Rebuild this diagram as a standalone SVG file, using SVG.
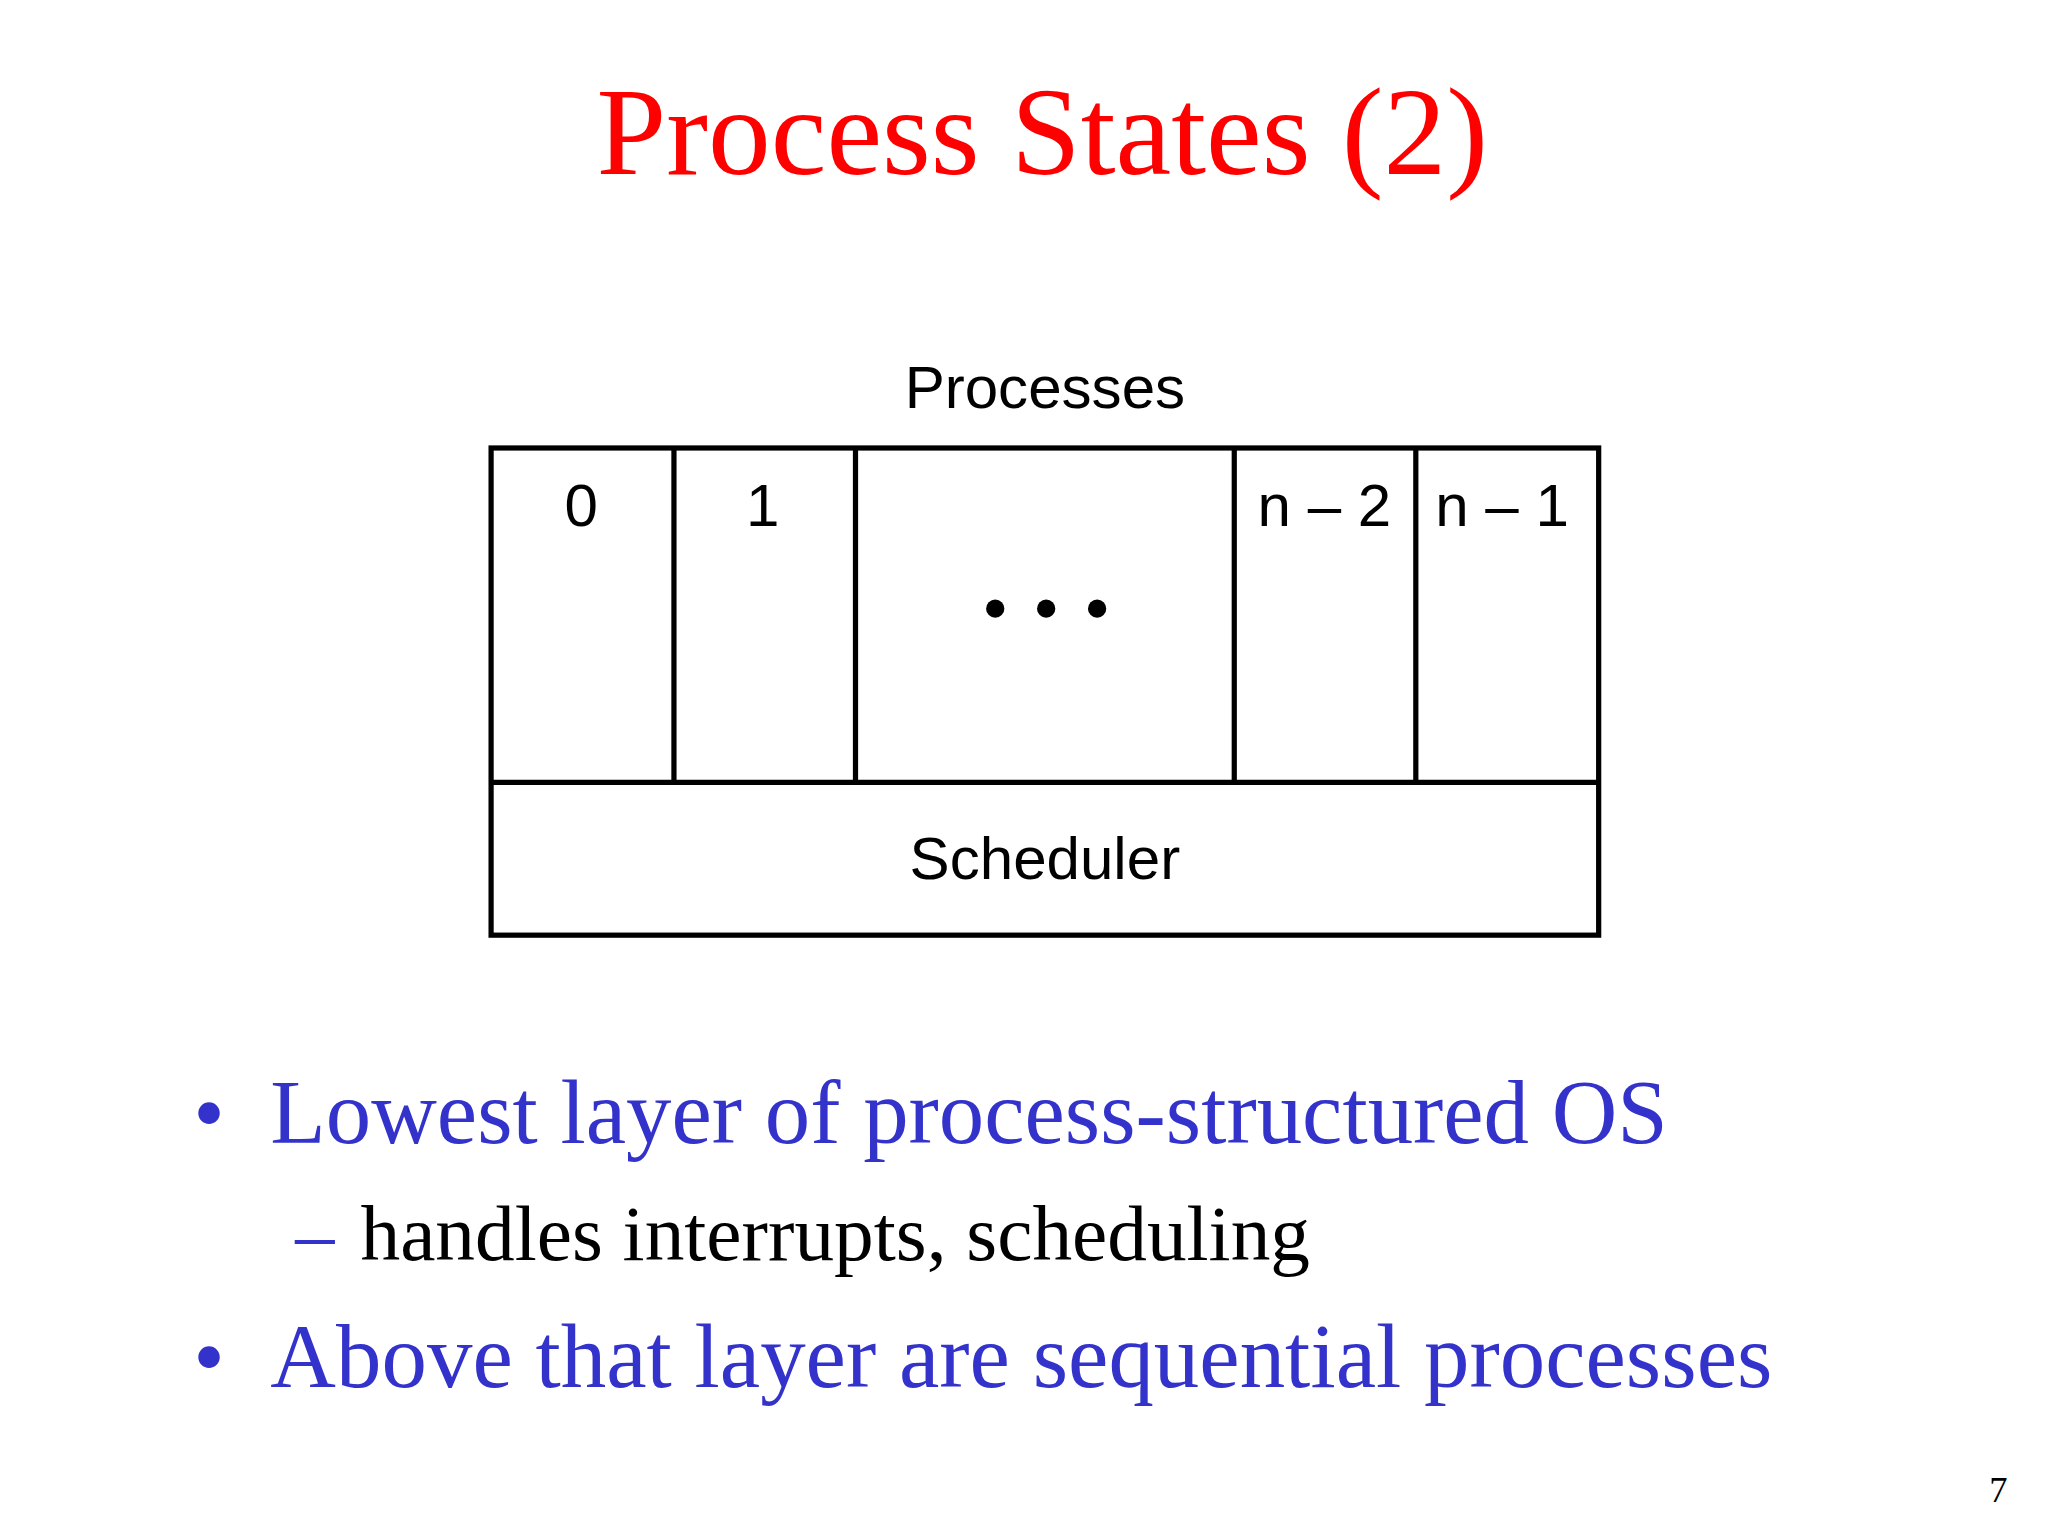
<svg xmlns="http://www.w3.org/2000/svg" width="2048" height="1536" viewBox="0 0 2048 1536">
<style>
.s{font-family:"Liberation Sans",Arial,sans-serif;font-size:46px;fill:#000;text-anchor:middle}
.t{font-family:"Liberation Serif","Times New Roman",serif}
.b{fill:none;stroke:#000;stroke-width:4}
.bl{fill:#3333CC;font-size:69px}
</style>
<rect width="2048" height="1536" fill="#fff"/>
<g transform="scale(1.3061)">
<text class="t" x="798" y="133" font-size="96" fill="#FF0000" text-anchor="middle">Process States (2)</text>
<g id="processes-label"><text class="s" x="800" y="312">Processes</text></g>
<g id="box"><rect class="b" x="376" y="343" width="848" height="373"/></g>
<g id="connectors">
<line class="b" x1="376" y1="599" x2="1224" y2="599"/>
<line class="b" x1="516" y1="343" x2="516" y2="599"/>
<line class="b" x1="655" y1="343" x2="655" y2="599"/>
<line class="b" x1="945" y1="343" x2="945" y2="599"/>
<line class="b" x1="1084" y1="343" x2="1084" y2="599"/>
</g>
<g id="p0"><text class="s" x="445" y="403">0</text></g>
<g id="p1"><text class="s" x="584" y="403">1</text></g>
<g id="pdots"><circle cx="762" cy="466" r="7"/><circle cx="801" cy="466" r="7"/><circle cx="840" cy="466" r="7"/></g>
<g id="pn2"><text class="s" x="1014" y="403">n – 2</text></g>
<g id="pn1"><text class="s" x="1150" y="403">n – 1</text></g>
<g id="scheduler"><text class="s" x="800" y="673">Scheduler</text></g>
<text class="t bl" x="148" y="875">•</text>
<text class="t bl" x="207" y="875" textLength="1070" lengthAdjust="spacingAndGlyphs">Lowest layer of process-structured OS</text>
<text class="t" x="226" y="965" font-size="60" fill="#3333CC">–</text>
<text class="t" x="276" y="965" font-size="60" fill="#000" textLength="727" lengthAdjust="spacingAndGlyphs">handles interrupts, scheduling</text>
<text class="t bl" x="148" y="1062">•</text>
<text class="t bl" x="207" y="1062" textLength="1150" lengthAdjust="spacingAndGlyphs">Above that layer are sequential processes</text>
<text class="t" x="1530" y="1150" font-size="28" fill="#000" text-anchor="middle">7</text>
</g>
</svg>
